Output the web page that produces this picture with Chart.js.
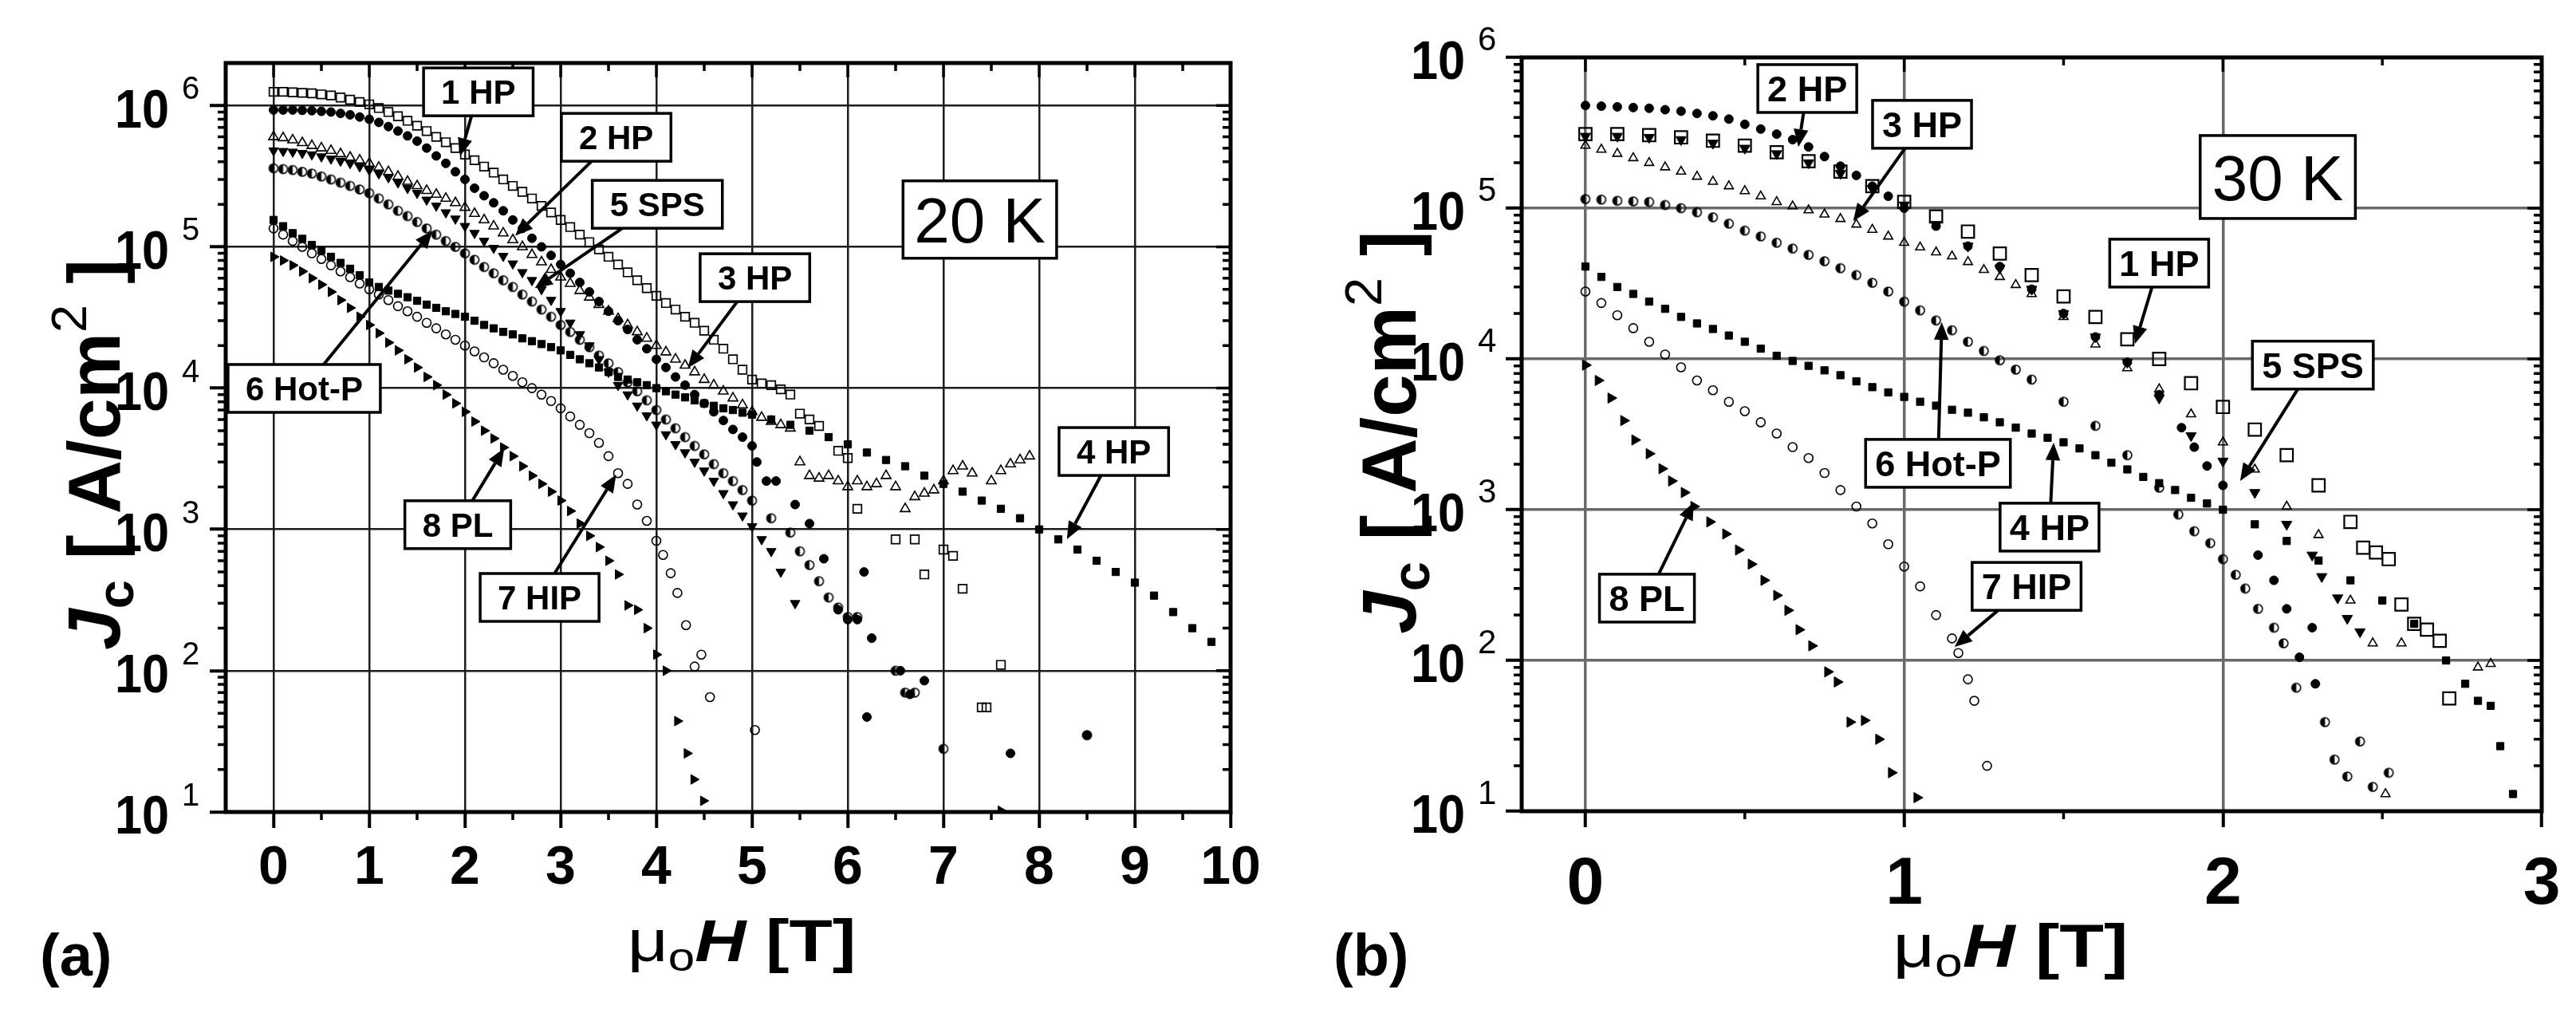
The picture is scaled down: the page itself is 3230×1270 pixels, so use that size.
<!DOCTYPE html>
<html>
<head>
<meta charset="utf-8">
<title>Jc vs applied field, 20 K and 30 K</title>
<script src="https://cdn.jsdelivr.net/npm/chart.js@4.4.1/dist/chart.umd.min.js"></script>
<style>
  html, body { margin: 0; padding: 0; background: #fff; }
  #wrap { position: relative; width: 3230px; height: 1270px; background: #fff; }
  canvas { position: absolute; top: 0; }
  #chart20 { left: 0; }
  #chart30 { left: 1615px; }
</style>
</head>
<body>
<div id="wrap">
  <canvas id="chart20" width="1615" height="1270"></canvas>
  <canvas id="chart30" width="1615" height="1270"></canvas>
</div>
<script>
// ==========================
// Data: [mu0H (T), Jc (A/cm2)]
// ==========================
const seriesNames = ['1 HP', '2 HP', '3 HP', '4 HP', '5 SPS', '6 Hot-P', '7 HIP', '8 PL'];
const yTicks = [1e1, 1e2, 1e3, 1e4, 1e5, 1e6];

// ---- 20 K ----
const xTicks20 = [0, 1, 2, 3, 4, 5, 6, 7, 8, 9, 10];
const jc20_1HP = [[0,1.25e6],[0.1,1.25e6],[0.2,1.24e6],[0.3,1.23e6],[0.4,1.22e6],[0.5,1.2e6],[0.6,1.18e6],[0.7,1.14e6],[0.8,1.1e6],[0.9,1.06e6],[1.0,1.02e6],[1.1,9.6e5],[1.2,9.0e5],[1.3,8.4e5],[1.4,7.8e5],[1.5,7.2e5],[1.6,6.6e5],[1.7,6.0e5],[1.8,5.5e5],[1.9,5.0e5],[2.0,4.5e5],[2.1,4.1e5],[2.2,3.7e5],[2.3,3.35e5],[2.4,3.0e5],[2.5,2.7e5],[2.6,2.45e5],[2.7,2.2e5],[2.8,1.95e5],[2.9,1.75e5],[3.0,1.55e5],[3.1,1.38e5],[3.2,1.22e5],[3.3,1.08e5],[3.4,9.6e4],[3.5,8.5e4],[3.6,7.5e4],[3.7,6.6e4],[3.8,5.8e4],[3.9,5.1e4],[4.0,4.5e4],[4.1,4.0e4],[4.2,3.6e4],[4.3,3.2e4],[4.4,2.9e4],[4.5,2.55e4],[4.6,2.2e4],[4.7,1.9e4],[4.8,1.6e4],[4.9,1.35e4],[5.0,1.15e4],[5.1,1.08e4],[5.2,1.05e4],[5.3,9.8e3],[5.4,9.0e3],[5.5,6.6e3],[5.6,6.0e3],[5.7,5.4e3],[5.9,3.6e3],[6.0,3.2e3],[6.1,1.4e3],[6.5,850],[6.7,850],[6.8,480],[7.0,720],[7.1,650],[7.2,380],[7.4,55],[7.45,55],[7.6,110]];
const jc20_2HP = [[0,9.3e5],[0.1,9.3e5],[0.2,9.3e5],[0.3,9.25e5],[0.4,9.2e5],[0.5,9.1e5],[0.6,9.0e5],[0.7,8.8e5],[0.8,8.6e5],[0.9,8.3e5],[1.0,8.0e5],[1.1,7.6e5],[1.2,7.1e5],[1.3,6.6e5],[1.4,6.1e5],[1.5,5.6e5],[1.6,5.0e5],[1.7,4.4e5],[1.8,3.9e5],[1.9,3.4e5],[2.0,3.0e5],[2.1,2.6e5],[2.2,2.3e5],[2.3,2.05e5],[2.4,1.8e5],[2.5,1.55e5],[2.6,1.35e5],[2.7,1.15e5],[2.8,1.0e5],[2.9,8.7e4],[3.0,7.5e4],[3.1,6.5e4],[3.2,5.6e4],[3.3,4.8e4],[3.4,4.1e4],[3.5,3.5e4],[3.6,3.0e4],[3.7,2.6e4],[3.8,2.2e4],[3.9,1.9e4],[4.0,1.6e4],[4.1,1.4e4],[4.2,1.2e4],[4.3,1.05e4],[4.4,9.0e3],[4.5,7.8e3],[4.6,6.8e3],[4.7,5.9e3],[4.8,5.1e3],[4.9,4.5e3],[5.0,3.9e3],[5.05,3.0e3],[5.15,2.2e3],[5.25,2.2e3],[5.45,1.5e3],[5.6,1.1e3],[5.75,620],[5.9,270],[6.0,230],[6.1,230],[6.17,500],[6.25,170],[6.2,47],[6.55,100],[6.65,68],[6.8,85],[7.7,26],[8.5,35]];
const jc20_3HP = [[0,6.0e5],[0.1,5.9e5],[0.2,5.7e5],[0.3,5.45e5],[0.4,5.2e5],[0.5,5.0e5],[0.6,4.8e5],[0.7,4.55e5],[0.8,4.3e5],[0.9,4.1e5],[1.0,3.9e5],[1.1,3.65e5],[1.2,3.4e5],[1.3,3.15e5],[1.4,2.9e5],[1.5,2.7e5],[1.6,2.5e5],[1.7,2.35e5],[1.8,2.2e5],[1.9,2.05e5],[2.0,1.9e5],[2.1,1.72e5],[2.2,1.55e5],[2.3,1.4e5],[2.4,1.25e5],[2.5,1.12e5],[2.6,1.0e5],[2.7,8.8e4],[2.8,7.8e4],[2.9,6.9e4],[3.0,6.1e4],[3.1,5.5e4],[3.2,4.9e4],[3.3,4.4e4],[3.4,3.9e4],[3.5,3.5e4],[3.6,3.1e4],[3.7,2.8e4],[3.8,2.5e4],[3.9,2.25e4],[4.0,2.0e4],[4.1,1.8e4],[4.2,1.6e4],[4.3,1.45e4],[4.4,1.3e4],[4.5,1.15e4],[4.6,1.05e4],[4.7,9.5e3],[4.8,8.5e3],[4.9,7.6e3],[5.0,6.8e3],[5.1,6.2e3],[5.2,5.8e3],[5.3,5.5e3],[5.4,5.2e3],[5.5,3.0e3],[5.6,2.4e3],[5.7,2.3e3],[5.8,2.4e3],[5.9,2.2e3],[6.0,2.0e3],[6.1,2.2e3],[6.2,2.0e3],[6.3,2.1e3],[6.4,2.4e3],[6.5,2.0e3],[6.6,1.4e3],[6.7,1.7e3],[6.8,1.8e3],[6.9,1.9e3],[7.0,2.2e3],[7.1,2.6e3],[7.2,2.8e3],[7.3,2.5e3],[7.5,2.2e3],[7.6,2.6e3],[7.7,2.9e3],[7.8,3.1e3],[7.9,3.3e3]];
const jc20_4HP = [[0,1.55e5],[0.1,1.4e5],[0.2,1.25e5],[0.3,1.14e5],[0.4,1.03e5],[0.5,9.4e4],[0.6,8.5e4],[0.7,7.7e4],[0.8,7.0e4],[0.9,6.3e4],[1.0,5.6e4],[1.1,5.2e4],[1.2,4.9e4],[1.3,4.65e4],[1.4,4.4e4],[1.5,4.15e4],[1.6,3.9e4],[1.7,3.7e4],[1.8,3.5e4],[1.9,3.35e4],[2.0,3.2e4],[2.1,3.0e4],[2.2,2.8e4],[2.3,2.65e4],[2.4,2.5e4],[2.5,2.4e4],[2.6,2.25e4],[2.7,2.15e4],[2.8,2.05e4],[2.9,1.95e4],[3.0,1.85e4],[3.1,1.72e4],[3.2,1.6e4],[3.3,1.5e4],[3.4,1.4e4],[3.5,1.3e4],[3.6,1.2e4],[3.7,1.15e4],[3.8,1.1e4],[3.9,1.05e4],[4.0,1.0e4],[4.1,9.5e3],[4.2,9.0e3],[4.3,8.6e3],[4.4,8.2e3],[4.5,7.8e3],[4.6,7.5e3],[4.7,7.2e3],[4.8,7.0e3],[4.9,6.7e3],[5.0,6.5e3],[5.2,6.0e3],[5.4,5.5e3],[5.6,5.0e3],[5.8,4.5e3],[6.0,4.0e3],[6.2,3.5e3],[6.4,3.1e3],[6.6,2.8e3],[6.8,2.4e3],[7.0,2.1e3],[7.2,1.85e3],[7.4,1.6e3],[7.6,1.4e3],[7.8,1.2e3],[8.0,1.0e3],[8.2,850],[8.4,720],[8.6,600],[8.8,500],[9.0,420],[9.2,340],[9.4,260],[9.6,200],[9.8,160]];
const jc20_5SPS = [[0,4.8e5],[0.1,4.75e5],[0.2,4.7e5],[0.3,4.6e5],[0.4,4.5e5],[0.5,4.35e5],[0.6,4.2e5],[0.7,4.05e5],[0.8,3.9e5],[0.9,3.7e5],[1.0,3.5e5],[1.1,3.3e5],[1.2,3.1e5],[1.3,2.85e5],[1.4,2.6e5],[1.5,2.4e5],[1.6,2.15e5],[1.7,1.95e5],[1.8,1.75e5],[1.9,1.58e5],[2.0,1.4e5],[2.1,1.25e5],[2.2,1.1e5],[2.3,9.8e4],[2.4,8.6e4],[2.5,7.6e4],[2.6,6.6e4],[2.7,5.8e4],[2.8,5.0e4],[2.9,4.2e4],[3.0,3.5e4],[3.1,2.9e4],[3.2,2.4e4],[3.3,2.0e4],[3.4,1.6e4],[3.5,1.3e4],[3.6,1.05e4],[3.7,9.0e3],[3.8,7.5e3],[3.9,6.4e3],[4.0,5.5e3],[4.1,4.7e3],[4.2,4.0e3],[4.3,3.5e3],[4.4,3.0e3],[4.5,2.6e3],[4.6,2.2e3],[4.7,1.8e3],[4.8,1.5e3],[4.9,1.25e3],[5.0,1.05e3],[5.1,850],[5.2,700],[5.3,500],[5.45,300]];
const jc20_6HotP = [[0,3.6e5],[0.1,3.55e5],[0.2,3.5e5],[0.3,3.4e5],[0.4,3.3e5],[0.5,3.15e5],[0.6,3.0e5],[0.7,2.85e5],[0.8,2.7e5],[0.9,2.55e5],[1.0,2.4e5],[1.1,2.2e5],[1.2,2.0e5],[1.3,1.8e5],[1.4,1.65e5],[1.5,1.5e5],[1.6,1.35e5],[1.7,1.22e5],[1.8,1.1e5],[1.9,1.0e5],[2.0,9.0e4],[2.1,8.1e4],[2.2,7.2e4],[2.3,6.5e4],[2.4,5.8e4],[2.5,5.2e4],[2.6,4.6e4],[2.7,4.1e4],[2.8,3.6e4],[2.9,3.2e4],[3.0,2.8e4],[3.1,2.5e4],[3.2,2.2e4],[3.3,1.95e4],[3.4,1.7e4],[3.5,1.5e4],[3.6,1.3e4],[3.7,1.1e4],[3.8,9.5e3],[3.9,8.2e3],[4.0,7.0e3],[4.1,6.0e3],[4.2,5.2e3],[4.3,4.5e3],[4.4,3.9e3],[4.5,3.4e3],[4.6,2.9e3],[4.7,2.5e3],[4.8,2.2e3],[4.9,1.9e3],[5.0,1.6e3],[5.2,1.2e3],[5.4,950],[5.5,700],[5.6,560],[5.7,430],[5.8,330],[5.9,280],[6.0,240],[6.1,240],[6.5,100],[6.6,70],[6.7,70],[7.0,28],[8.5,35]];
const jc20_7HIP = [[0,1.35e5],[0.1,1.22e5],[0.2,1.1e5],[0.3,1.0e5],[0.4,9.0e4],[0.5,8.2e4],[0.6,7.4e4],[0.7,6.7e4],[0.8,6.1e4],[0.9,5.5e4],[1.0,5.0e4],[1.1,4.6e4],[1.2,4.2e4],[1.3,3.8e4],[1.4,3.5e4],[1.5,3.2e4],[1.6,2.9e4],[1.7,2.65e4],[1.8,2.4e4],[1.9,2.2e4],[2.0,2.0e4],[2.1,1.82e4],[2.2,1.65e4],[2.3,1.5e4],[2.4,1.35e4],[2.5,1.22e4],[2.6,1.1e4],[2.7,1.0e4],[2.8,9.0e3],[2.9,8.1e3],[3.0,7.2e3],[3.1,6.3e3],[3.2,5.5e3],[3.3,4.8e3],[3.4,4.1e3],[3.5,3.3e3],[3.6,2.5e3],[3.7,2.1e3],[3.8,1.5e3],[3.9,1.15e3],[4.0,830],[4.07,660],[4.15,490],[4.22,355],[4.31,210],[4.4,107],[4.47,130],[4.56,65],[5.03,38]];
const jc20_8PL = [[0,8.5e4],[0.1,8.0e4],[0.2,7.4e4],[0.3,6.7e4],[0.4,6.0e4],[0.5,5.4e4],[0.6,4.8e4],[0.7,4.2e4],[0.8,3.7e4],[0.9,3.2e4],[1.0,2.8e4],[1.1,2.45e4],[1.2,2.1e4],[1.3,1.85e4],[1.4,1.6e4],[1.5,1.4e4],[1.6,1.2e4],[1.7,1.05e4],[1.8,9.0e3],[1.9,7.8e3],[2.0,6.8e3],[2.1,5.8e3],[2.2,5.0e3],[2.3,4.4e3],[2.4,3.8e3],[2.5,3.3e3],[2.6,2.8e3],[2.7,2.4e3],[2.8,2.1e3],[2.9,1.85e3],[3.0,1.6e3],[3.1,1.35e3],[3.2,1.1e3],[3.3,900],[3.4,750],[3.5,600],[3.6,480],[3.7,290],[3.8,270],[3.9,200],[4.0,130],[4.1,100],[4.22,44],[4.32,26],[4.39,17],[4.49,12],[7.6,10.2]];

// ---- 30 K ----
const xTicks30 = [0, 1, 2, 3];
const jc30_1HP = [[0,3.1e5],[0.1,3.1e5],[0.2,3.05e5],[0.3,2.95e5],[0.4,2.8e5],[0.5,2.6e5],[0.6,2.35e5],[0.7,2.05e5],[0.8,1.75e5],[0.9,1.4e5],[1.0,1.1e5],[1.1,8.8e4],[1.2,7.0e4],[1.3,5.0e4],[1.4,3.6e4],[1.5,2.6e4],[1.6,1.9e4],[1.7,1.35e4],[1.8,1.0e4],[1.9,6.9e3],[2.0,4.8e3],[2.1,3.4e3],[2.2,2.3e3],[2.3,1.45e3],[2.4,830],[2.44,560],[2.48,520],[2.52,470],[2.56,235],[2.6,175],[2.64,160],[2.68,135],[2.71,56]];
const jc30_2HP = [[0,4.8e5],[0.05,4.75e5],[0.1,4.7e5],[0.15,4.65e5],[0.2,4.6e5],[0.25,4.5e5],[0.3,4.4e5],[0.35,4.25e5],[0.4,4.1e5],[0.45,3.9e5],[0.5,3.6e5],[0.55,3.35e5],[0.6,3.1e5],[0.65,2.85e5],[0.7,2.55e5],[0.75,2.2e5],[0.8,1.9e5],[0.85,1.65e5],[0.9,1.4e5],[0.95,1.2e5],[1.0,1.0e5],[1.1,7.6e4],[1.2,5.6e4],[1.3,4.1e4],[1.4,2.9e4],[1.5,2.0e4],[1.6,1.4e4],[1.7,9.5e3],[1.8,5.8e3],[1.87,3.5e3],[1.91,2.6e3],[1.95,1.95e3],[2.0,1.45e3],[2.11,500],[2.16,340],[2.2,220],[2.24,105],[2.28,165],[2.29,70]];
const jc30_3HP = [[0,2.6e5],[0.05,2.45e5],[0.1,2.3e5],[0.15,2.15e5],[0.2,2.0e5],[0.25,1.87e5],[0.3,1.75e5],[0.35,1.62e5],[0.4,1.5e5],[0.45,1.4e5],[0.5,1.3e5],[0.55,1.2e5],[0.6,1.1e5],[0.65,1.03e5],[0.7,9.7e4],[0.75,9.1e4],[0.8,8.5e4],[0.85,7.8e4],[0.9,7.2e4],[0.95,6.5e4],[1.0,5.9e4],[1.05,5.5e4],[1.1,5.1e4],[1.15,4.8e4],[1.2,4.4e4],[1.25,3.9e4],[1.3,3.5e4],[1.35,3.1e4],[1.4,2.7e4],[1.5,1.9e4],[1.6,1.25e4],[1.7,8.7e3],[1.8,6.3e3],[1.9,4.3e3],[2.0,2.8e3],[2.1,1.85e3],[2.2,1.05e3],[2.3,680],[2.4,250],[2.47,130],[2.56,130],[2.8,90],[2.84,95],[2.51,13]];
const jc30_4HP = [[0,4.1e4],[0.05,3.5e4],[0.1,3.0e4],[0.15,2.7e4],[0.2,2.4e4],[0.25,2.15e4],[0.3,1.9e4],[0.35,1.72e4],[0.4,1.58e4],[0.45,1.43e4],[0.5,1.3e4],[0.55,1.17e4],[0.6,1.05e4],[0.65,9.7e3],[0.7,9.0e3],[0.75,8.4e3],[0.8,7.8e3],[0.85,7.1e3],[0.9,6.5e3],[0.95,6.0e3],[1.0,5.6e3],[1.05,5.2e3],[1.1,4.9e3],[1.15,4.6e3],[1.2,4.4e3],[1.25,4.1e3],[1.3,3.8e3],[1.35,3.5e3],[1.4,3.2e3],[1.45,3.0e3],[1.5,2.8e3],[1.55,2.55e3],[1.6,2.3e3],[1.65,2.05e3],[1.7,1.85e3],[1.75,1.65e3],[1.8,1.5e3],[1.85,1.35e3],[1.9,1.2e3],[1.95,1.1e3],[2.0,1.0e3],[2.1,800],[2.2,620],[2.3,460],[2.4,340],[2.5,250],[2.6,175],[2.7,100],[2.76,70],[2.8,54],[2.84,50],[2.87,27],[2.91,13]];
const jc30_5SPS = [[0,3.0e5],[0.1,3.0e5],[0.2,2.95e5],[0.3,2.85e5],[0.4,2.7e5],[0.5,2.5e5],[0.6,2.3e5],[0.7,2.0e5],[0.8,1.7e5],[0.9,1.35e5],[1.0,1.05e5],[1.1,7.8e4],[1.2,5.6e4],[1.3,4.0e4],[1.4,2.9e4],[1.5,2.0e4],[1.6,1.4e4],[1.7,9.5e3],[1.8,5.5e3],[1.9,3.1e3],[2.0,2.1e3],[2.1,1.3e3],[2.2,800],[2.28,500],[2.31,360],[2.36,260],[2.39,190],[2.43,155]];
const jc30_6HotP = [[0,1.15e5],[0.05,1.14e5],[0.1,1.12e5],[0.15,1.11e5],[0.2,1.1e5],[0.25,1.05e5],[0.3,1.0e5],[0.35,9.4e4],[0.4,8.7e4],[0.45,7.9e4],[0.5,7.1e4],[0.55,6.5e4],[0.6,5.9e4],[0.65,5.4e4],[0.7,4.9e4],[0.75,4.45e4],[0.8,4.0e4],[0.85,3.6e4],[0.9,3.2e4],[0.95,2.8e4],[1.0,2.4e4],[1.05,2.1e4],[1.1,1.8e4],[1.15,1.55e4],[1.2,1.3e4],[1.25,1.13e4],[1.3,9.8e3],[1.35,8.5e3],[1.4,7.3e3],[1.5,5.2e3],[1.6,3.6e3],[1.7,2.3e3],[1.8,1.4e3],[1.86,930],[1.91,720],[1.96,600],[2.0,470],[2.04,370],[2.07,300],[2.11,220],[2.16,165],[2.19,130],[2.23,66],[2.32,39],[2.35,22],[2.39,17],[2.43,29],[2.47,14.5],[2.52,18]];
const jc30_7HIP = [[0,2.8e4],[0.05,2.35e4],[0.1,1.95e4],[0.15,1.6e4],[0.2,1.3e4],[0.25,1.07e4],[0.3,8.8e3],[0.35,7.2e3],[0.4,6.2e3],[0.45,5.2e3],[0.5,4.5e3],[0.55,3.8e3],[0.6,3.2e3],[0.65,2.6e3],[0.7,2.2e3],[0.75,1.75e3],[0.8,1.35e3],[0.85,1.05e3],[0.9,810],[0.95,590],[1.0,420],[1.05,310],[1.1,200],[1.15,140],[1.17,112],[1.2,75],[1.22,54],[1.26,20]];
const jc30_8PL = [[0,9.1e3],[0.04,7.2e3],[0.08,5.5e3],[0.12,3.9e3],[0.155,2.9e3],[0.2,2.35e3],[0.24,1.87e3],[0.27,1.55e3],[0.31,1.3e3],[0.34,1.05e3],[0.39,830],[0.44,690],[0.48,540],[0.52,435],[0.56,340],[0.6,270],[0.635,215],[0.67,160],[0.71,125],[0.76,84],[0.79,72],[0.83,39],[0.875,40],[0.92,30],[0.96,18],[1.04,12.3]];

const series20 = [jc20_1HP, jc20_2HP, jc20_3HP, jc20_4HP, jc20_5SPS, jc20_6HotP, jc20_7HIP, jc20_8PL];
const series30 = [jc30_1HP, jc30_2HP, jc30_3HP, jc30_4HP, jc30_5SPS, jc30_6HotP, jc30_7HIP, jc30_8PL];

// Callout boxes: box centre (bx, by) and arrow tip (tx, ty) in data units
const notes20 = [
  { text: '1 HP',    bx: 2.14,  by: 1.25e6, tx: 1.95,  ty: 4.4e5 },
  { text: '2 HP',    bx: 3.58,  by: 5.96e5, tx: 2.525, ty: 1.2e5 },
  { text: '5 SPS',   bx: 4.01,  by: 2.0e5,  tx: 2.73,  ty: 5.1e4 },
  { text: '3 HP',    bx: 5.03,  by: 6.05e4, tx: 4.33,  ty: 1.39e4 },
  { text: '6 Hot-P', bx: 0.32,  by: 9.95e3, tx: 1.66,  ty: 1.3e5 },
  { text: '8 PL',    bx: 1.925, by: 1.08e3, tx: 2.41,  ty: 3.75e3 },
  { text: '7 HIP',   bx: 2.78,  by: 330,    tx: 3.58,  ty: 2.44e3 },
  { text: '4 HP',    bx: 8.78,  by: 3.56e3, tx: 8.29,  ty: 853 }
];
const notes30 = [
  { text: '2 HP',    bx: 0.696, by: 6.22e5, tx: 0.668, ty: 2.55e5 },
  { text: '3 HP',    bx: 1.056, by: 3.6e5,  tx: 0.84,  ty: 8.2e4 },
  { text: '1 HP',    bx: 1.80,  by: 4.32e4, tx: 1.724, ty: 1.26e4 },
  { text: '5 SPS',   bx: 2.282, by: 9.1e3,  tx: 2.054, ty: 1.55e3 },
  { text: '6 Hot-P', bx: 1.106, by: 2.03e3, tx: 1.118, ty: 1.75e4 },
  { text: '4 HP',    bx: 1.456, by: 766,    tx: 1.469, ty: 2.78e3 },
  { text: '7 HIP',   bx: 1.384, by: 310,    tx: 1.158, ty: 123 },
  { text: '8 PL',    bx: 0.193, by: 259,    tx: 0.34,  ty: 1.12e3 }
];
const temp20 = { text: '20 K', bx: 7.38, by: 1.56e5 };
const temp30 = { text: '30 K', bx: 2.172, by: 1.61e5 };

// ==========================
// Marker styles
// ==========================
const FF = '"Liberation Sans", Arial, Helvetica, sans-serif';
const NONE = 'rgba(0,0,0,0)';

function halfDot(r) {
  const c = document.createElement('canvas');
  const s = Math.ceil(2 * r + 4);
  c.width = c.height = s;
  const g = c.getContext('2d');
  const m = s / 2;
  g.beginPath();
  g.arc(m, m, r, Math.PI / 2, Math.PI * 1.5);
  g.closePath();
  g.fillStyle = '#000';
  g.fill();
  g.beginPath();
  g.arc(m, m, r, 0, 2 * Math.PI);
  g.lineWidth = 1.6;
  g.strokeStyle = '#000';
  g.stroke();
  return c;
}

function markerSet(k) {
  return [
    { pointStyle: 'rect',     pointRadius: k.sq,  pointBackgroundColor: NONE, pointBorderWidth: k.bw },
    { pointStyle: 'circle',   pointRadius: k.dot, pointBackgroundColor: '#000', pointBorderWidth: 1 },
    { pointStyle: 'triangle', pointRadius: k.tri, pointBackgroundColor: NONE, pointBorderWidth: 1.6 },
    { pointStyle: 'rect',     pointRadius: k.fsq, pointBackgroundColor: '#000', pointBorderWidth: 1 },
    { pointStyle: 'triangle', pointRadius: k.dtri, pointRotation: 180, pointBackgroundColor: '#000', pointBorderWidth: 1 },
    { pointStyle: halfDot(k.dot), pointRadius: k.dot },
    { pointStyle: 'circle',   pointRadius: k.dot, pointBackgroundColor: NONE, pointBorderWidth: 1.6 },
    { pointStyle: 'triangle', pointRadius: k.dtri, pointRotation: 90, pointBackgroundColor: '#000', pointBorderWidth: 1 }
  ];
}

// ==========================
// Drawing helpers
// ==========================
function drawRich(ctx, parts, x, y, sx) {
  let w = 0;
  parts.forEach(p => { ctx.font = p.font; w += ctx.measureText(p.t).width; });
  ctx.save();
  ctx.translate(x, y);
  ctx.scale(sx || 1, 1);
  ctx.textAlign = 'left';
  ctx.textBaseline = 'alphabetic';
  let cx = -w / 2;
  parts.forEach(p => {
    ctx.font = p.font;
    ctx.fillText(p.t, cx, p.dy || 0);
    cx += ctx.measureText(p.t).width;
  });
  ctx.restore();
}

function arrow(ctx, x0, y0, x1, y1, lw, head) {
  const a = Math.atan2(y1 - y0, x1 - x0);
  const bx = x1 - head * Math.cos(a), by = y1 - head * Math.sin(a);
  ctx.lineWidth = lw;
  ctx.beginPath();
  ctx.moveTo(x0, y0);
  ctx.lineTo(bx, by);
  ctx.stroke();
  ctx.beginPath();
  ctx.moveTo(x1, y1);
  ctx.lineTo(bx + head * 0.42 * Math.sin(a), by - head * 0.42 * Math.cos(a));
  ctx.lineTo(bx - head * 0.42 * Math.sin(a), by + head * 0.42 * Math.cos(a));
  ctx.closePath();
  ctx.fill();
}

function box(ctx, text, cx, cy, font, fs, padX, h, lw) {
  ctx.font = font;
  const w = ctx.measureText(text).width + 2 * padX;
  ctx.fillStyle = '#fff';
  ctx.fillRect(cx - w / 2, cy - h / 2, w, h);
  ctx.strokeStyle = '#000';
  ctx.lineWidth = lw;
  ctx.strokeRect(cx - w / 2, cy - h / 2, w, h);
  ctx.fillStyle = '#000';
  ctx.textAlign = 'center';
  ctx.textBaseline = 'alphabetic';
  ctx.fillText(text, cx, cy + fs * 0.36);
}

// ==========================
// Frame, ticks, labels, callouts
// ==========================
const decor = {
  id: 'decor',
  afterDatasetsDraw(chart, args, o) {
    const { ctx, chartArea: a, scales: { x, y } } = chart;
    ctx.save();
    ctx.strokeStyle = '#000';
    ctx.fillStyle = '#000';

    // small ticks
    ctx.lineWidth = 3.5;
    ctx.beginPath();
    y.ticks.forEach(t => {
      for (let m = 2; m <= 9; m++) {
        const v = t.value * m;
        if (v >= y.max) continue;
        const py = y.getPixelForValue(v);
        ctx.moveTo(a.left - o.minorLen, py); ctx.lineTo(a.left, py);
        ctx.moveTo(a.right, py); ctx.lineTo(a.right - o.minorLen, py);
      }
      const py = y.getPixelForValue(t.value);
      ctx.moveTo(a.right, py); ctx.lineTo(a.right - o.majorLen, py);
    });
    x.ticks.forEach((t, i) => {
      const px = x.getPixelForValue(t.value);
      ctx.moveTo(px, a.top); ctx.lineTo(px, a.top + o.majorLen);
      if (i < x.ticks.length - 1) {
        const hx = x.getPixelForValue(t.value + 0.5);
        ctx.moveTo(hx, a.bottom); ctx.lineTo(hx, a.bottom + o.minorLen);
        ctx.moveTo(hx, a.top); ctx.lineTo(hx, a.top + o.minorLen);
      }
    });
    ctx.stroke();

    // frame
    ctx.lineWidth = o.frameWidth;
    ctx.strokeRect(a.left, a.top, a.right - a.left, a.bottom - a.top);

    // y tick labels 10^n
    y.ticks.forEach(t => {
      const py = y.getPixelForValue(t.value);
      const xr = a.left - o.yLabelGap;
      ctx.save();
      ctx.translate(xr, py + o.yTickFs * 0.36 + 3);
      ctx.scale(o.yTickSx, 1);
      ctx.font = `bold ${o.yTickFs}px ${FF}`;
      ctx.textAlign = 'right';
      ctx.textBaseline = 'alphabetic';
      ctx.fillText('10', 0, 0);
      ctx.restore();
      ctx.font = `${o.supFs}px ${FF}`;
      ctx.textAlign = 'left';
      ctx.fillText(String(Math.round(Math.log10(t.value))), xr + 16, py - o.supDy);
    });

    // x tick labels
    ctx.font = `bold ${o.xTickFs}px ${FF}`;
    ctx.textAlign = 'center';
    ctx.textBaseline = 'alphabetic';
    x.ticks.forEach(t => {
      ctx.fillText(String(t.value), x.getPixelForValue(t.value), o.xLabelBase);
    });

    // axis titles
    const xf = o.xTitleFs;
    drawRich(ctx, [
      { t: 'μ', font: `${xf}px ${FF}` },
      { t: 'o', font: `${Math.round(xf * 0.68)}px ${FF}`, dy: xf * 0.16 },
      { t: 'H', font: `italic bold ${xf}px ${FF}` },
      { t: ' [T]', font: `bold ${xf}px ${FF}` }
    ], o.xTitleX, o.xTitleBase, 1.2);

    const yf = o.yTitleFs;
    ctx.save();
    ctx.translate(o.yTitleBase, o.yTitleY);
    ctx.rotate(-Math.PI / 2);
    drawRich(ctx, [
      { t: 'J', font: `italic bold ${yf}px ${FF}` },
      { t: 'c', font: `bold ${Math.round(yf * 0.7)}px ${FF}`, dy: yf * 0.18 },
      { t: ' [ A/cm', font: `bold ${yf}px ${FF}` },
      { t: '2', font: `${Math.round(yf * 0.68)}px ${FF}`, dy: -yf * 0.45 },
      { t: ' ]', font: `bold ${yf}px ${FF}` }
    ], 0, 0, 1);
    ctx.restore();

    // panel letter
    ctx.font = `bold 74px ${FF}`;
    ctx.textAlign = 'left';
    ctx.fillText(o.panel, o.panelX, 1223);

    // callouts: arrows first, boxes on top
    o.notes.forEach(n => {
      arrow(ctx, x.getPixelForValue(n.bx), y.getPixelForValue(n.by),
        x.getPixelForValue(n.tx), y.getPixelForValue(n.ty), 4, 22);
    });
    o.notes.forEach(n => {
      box(ctx, n.text, x.getPixelForValue(n.bx), y.getPixelForValue(n.by),
        `bold ${o.noteFs}px ${FF}`, o.noteFs, o.notePadX, o.noteH, 3.5);
    });
    box(ctx, o.temp.text, x.getPixelForValue(o.temp.bx), y.getPixelForValue(o.temp.by),
      `${o.tempFs}px ${FF}`, o.tempFs, o.tempPadX, o.tempH, 3.5);

    ctx.restore();
  }
};

// ==========================
// Chart factory
// ==========================
function makeChart(id, cfg) {
  const styles = markerSet(cfg.marker);
  return new Chart(document.getElementById(id).getContext('2d'), {
    type: 'scatter',
    data: {
      datasets: cfg.series.map((pts, i) => Object.assign({
        label: seriesNames[i],
        data: pts.map(([px, py]) => ({ x: px, y: py })),
        pointBorderColor: '#000',
        showLine: false
      }, styles[i]))
    },
    options: {
      responsive: false,
      animation: false,
      devicePixelRatio: 1,
      events: [],
      layout: { padding: { left: 0, top: cfg.top, right: cfg.right, bottom: 0 } },
      plugins: {
        legend: { display: false },
        tooltip: { enabled: false },
        decor: cfg.decor
      },
      scales: {
        x: {
          type: 'linear',
          min: cfg.xMin,
          max: cfg.xMax,
          afterBuildTicks: s => { s.ticks = cfg.xTicks.map(v => ({ value: v })); },
          afterFit: s => { s.height = cfg.xAxisH; },
          ticks: { display: false },
          border: { display: false },
          grid: { color: cfg.gridColor, lineWidth: cfg.gridWidth, tickLength: 20, tickColor: '#000', tickWidth: 4 }
        },
        y: {
          type: 'logarithmic',
          min: 10,
          max: cfg.yMax,
          afterBuildTicks: s => { s.ticks = yTicks.map(v => ({ value: v })); },
          afterFit: s => { s.width = cfg.yAxisW; },
          ticks: { display: false },
          border: { display: false },
          grid: { color: cfg.gridColor, lineWidth: cfg.gridWidth, tickLength: 20, tickColor: '#000', tickWidth: 4 }
        }
      }
    },
    plugins: [decor]
  });
}

// ==========================
// 20 K panel
// ==========================
makeChart('chart20', {
  series: series20,
  xTicks: xTicks20, xMin: -0.5, xMax: 10, yMax: 2e6,
  top: 79, right: 72, yAxisW: 283, xAxisH: 252,
  gridColor: '#1c1c1c', gridWidth: 2.5,
  marker: { sq: 7.5, bw: 1.7, dot: 5.5, tri: 7, fsq: 6.5, dtri: 7 },
  decor: {
    frameWidth: 5, minorLen: 10, majorLen: 18,
    yLabelGap: 71, yTickFs: 68, yTickSx: 0.9, supFs: 40, supDy: 8,
    xTickFs: 68, xLabelBase: 1108,
    xTitleFs: 74, xTitleX: 930, xTitleBase: 1205,
    yTitleFs: 93, yTitleBase: 150, yTitleY: 570,
    panel: '(a)', panelX: 50,
    notes: notes20, noteFs: 42, notePadX: 22, noteH: 60,
    temp: temp20, tempFs: 80, tempPadX: 14, tempH: 97
  }
});

// ==========================
// 30 K panel
// ==========================
makeChart('chart30', {
  series: series30,
  xTicks: xTicks30, xMin: -0.2, xMax: 3, yMax: 1e6,
  top: 72, right: 43, yAxisW: 293, xAxisH: 253,
  gridColor: '#6a6a6a', gridWidth: 3.5,
  marker: { sq: 11, bw: 2.2, dot: 5.5, tri: 6.5, fsq: 6.5, dtri: 7.5 },
  decor: {
    frameWidth: 5, minorLen: 10, majorLen: 18,
    yLabelGap: 71, yTickFs: 68, yTickSx: 0.9, supFs: 42, supDy: 9,
    xTickFs: 84, xLabelBase: 1133,
    xTitleFs: 76, xTitleX: 906, xTitleBase: 1212,
    yTitleFs: 96, yTitleBase: 160, yTitleY: 542,
    panel: '(b)', panelX: 57,
    notes: notes30, noteFs: 45, notePadX: 12, noteH: 60,
    temp: temp30, tempFs: 80, tempPadX: 15, tempH: 104
  }
});
</script>
</body>
</html>
